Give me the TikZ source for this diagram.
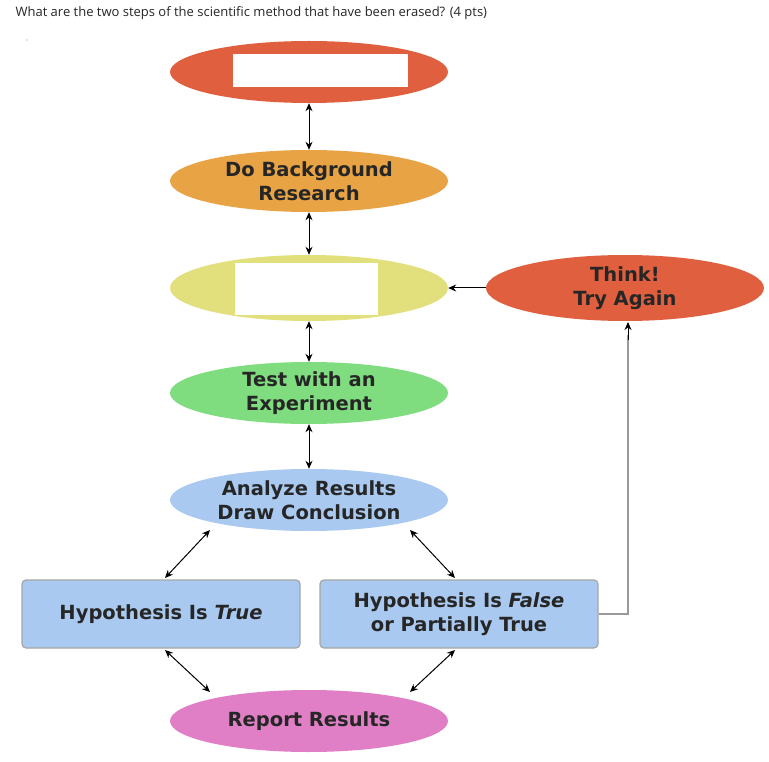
\documentclass[tikz,border=0pt]{standalone}
\usepackage{fontspec}
\setmainfont{DejaVu Sans}
\newfontfamily\titlefont{Open Sans}
\usetikzlibrary{arrows.meta,shapes.geometric}
\begin{document}
\begin{tikzpicture}[x=1pt,y=-1pt,
  ell/.style={ellipse,draw=none,minimum width=278pt,minimum height=62pt,inner sep=0pt,font=\bfseries\fontsize{19.5}{24}\selectfont,align=center,text=black!85},
  box/.style={draw=gray!70,line width=1.2pt,rounded corners=4pt,fill=blueC,minimum width=278pt,minimum height=68pt,font=\bfseries\fontsize{19.5}{24}\selectfont,align=center,text=black!85},
  dbl/.style={{Stealth[length=8pt,width=7pt]}-{Stealth[length=8pt,width=7pt]},line width=1pt},
  patch/.style={fill=white,draw=none}]
\definecolor{redC}{HTML}{E05F3E}
\definecolor{orC}{HTML}{E8A345}
\definecolor{yelC}{HTML}{E2E07C}
\definecolor{grC}{HTML}{7FDC7F}
\definecolor{blueC}{HTML}{A9C9F0}
\definecolor{pinkC}{HTML}{E07FC6}
\useasboundingbox (0,0) rectangle (769,762);
\fill[white] (0,0) rectangle (769,762);
\node[anchor=west,font=\titlefont\fontsize{13}{15}\selectfont,text=black!85] (title) at (12,13) {What are the two steps of the scientific method that have been erased? (4 pts)};
\node[circle,fill=gray,inner sep=0.5pt] (dot) at (27,40) {};
\node[ell,fill=redC] (q) at (309,72) {};
\node[patch,minimum width=175pt,minimum height=33pt] (p1) at (320,71) {};
\node[ell,fill=orC] (bg) at (309,181) {Do Background\\Research};
\node[ell,fill=yelC,minimum height=66pt] (hy) at (309,288) {};
\node[patch,minimum width=143pt,minimum height=52pt] (p2) at (306,289) {};
\node[ell,fill=grC] (ex) at (309,393) {Test with an\\Experiment};
\node[ell,fill=blueC] (an) at (309,500) {Analyze Results\\Draw Conclusion};
\node[ell,fill=pinkC] (rep) at (309,721) {Report Results};
\node[ell,fill=redC,minimum height=66pt] (th) at (625,288) {Think!\\Try Again};
\node[box] (tr) at (161,614) {Hypothesis Is \textit{True}};
\node[box] (fa) at (459,614) {Hypothesis Is \textit{False}\\or Partially True};
\coordinate (c1) at (628,614);
\coordinate (c2) at (628,322);
\draw[dbl] (q) -- (bg);
\draw[dbl] (bg) -- (hy);
\draw[dbl] (hy) -- (ex);
\draw[dbl] (ex) -- (an);
\draw[dbl] (210,530) -- (165,578);
\draw[dbl] (410,530) -- (455,578);
\draw[dbl] (165,650) -- (210,692);
\draw[dbl] (455,650) -- (410,692);
\draw[-{Stealth[length=8pt,width=7pt]},line width=1pt] (th) -- (hy);
\draw[gray!80,line width=1.2pt] (fa.east) -- (c1) -- (628,335);
\draw[-{Stealth[length=8pt,width=7pt]},line width=1pt] (628,340) -- (c2);
\end{tikzpicture}
\end{document}
